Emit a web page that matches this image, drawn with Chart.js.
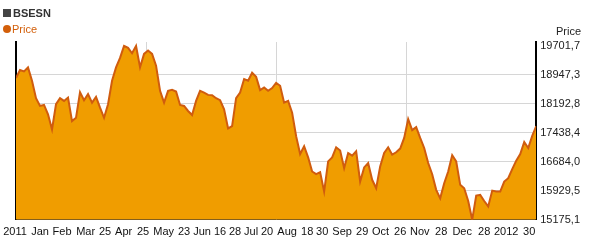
<!DOCTYPE html>
<html>
<head>
<meta charset="utf-8">
<script src="https://cdn.jsdelivr.net/npm/chart.js@4.4.1/dist/chart.umd.min.js"></script>
<style>
  html, body { margin: 0; padding: 0; background: #fff; }
  #wrap { width: 600px; height: 247px; position: relative; }
</style>
</head>
<body>
<div id="wrap"><canvas id="priceChart"></canvas></div>
<script>
// x labels as printed under the chart, and where they sit (in sample index units)
const dayLabels = ["2011", "Jan", "Feb", "Mar", "25", "Apr", "25", "May", "23", "Jun", "16", "28", "Jul", "20",
  "Aug", "18", "30", "Sep", "29", "Oct", "26", "Nov", "28", "Dec", "28", "2012", "30"];
const labelAt = [-0.25, 6, 11.5, 17.4, 22.25, 26.9, 31.75, 36.9, 42, 46.5, 51, 54.75, 58.75, 62.75,
  67.75, 72.75, 76.5, 81.5, 86.5, 91.1, 96, 100.9, 106.25, 111.5, 117, 122.5, 128.25];

// BSESN closing price, one reading every few sessions
const price = [
  18863, 19073, 19036, 19141, 18792, 18339, 18137, 18163, 17919, 17526,
  18182, 18339, 18268, 18355, 17744, 17830, 18496, 18286, 18444, 18223,
  18373, 18092, 17830, 18182, 18792, 19141, 19387, 19701, 19649, 19508,
  19696, 19141, 19492, 19579, 19492, 19185, 18530, 18223, 18530, 18556,
  18512, 18163, 18137, 18006, 17901, 18268, 18530, 18486, 18425, 18417,
  18339, 18286, 18050, 17552, 17613, 18339, 18486, 18837, 18792, 19002,
  18897, 18548, 18617, 18530, 18601, 18740, 18661, 18223, 18268, 17961,
  17351, 16887, 17088, 16800, 16433, 16362, 16415, 15909, 16695, 16800,
  17062, 16976, 16520, 16913, 16845, 16957, 16171, 16538, 16651, 16216,
  15996, 16564, 16913, 17062, 16871, 16931, 17028, 17306, 17796, 17508,
  17587, 17306, 17044, 16651, 16362, 15954, 15733, 16127, 16433, 16853,
  16695, 16085, 15996, 15665, 15180, 15804, 15823, 15665, 15524, 15935,
  15909, 15909, 16171, 16258, 16494, 16714, 16887, 17201, 17044, 17359,
  17613
];

const yTicks = [15175.1, 15929.5, 16684.0, 17438.4, 18192.8, 18947.3, 19701.7];

const points = price.map((v, i) => ({ x: i, y: v }));
const lastIdx = price.length - 1;
const font = { family: "'Liberation Sans', Arial, sans-serif", size: 11 };

// legend block and the "Price" header over the value axis
const headerPlugin = {
  id: "header",
  afterDraw(chart) {
    const c = chart.ctx;
    c.save();
    c.textBaseline = "middle";
    c.fillStyle = "#444";
    c.fillRect(3, 9, 8, 8);
    c.font = "bold 11px 'Liberation Sans', Arial, sans-serif";
    c.fillStyle = "#333";
    c.fillText("BSESN", 13, 13.5);
    c.fillStyle = "#d35f0a";
    c.beginPath();
    c.arc(7, 29, 4, 0, Math.PI * 2);
    c.fill();
    c.font = "11px 'Liberation Sans', Arial, sans-serif";
    c.fillText("Price", 12, 29.5);
    c.fillStyle = "#222";
    c.textAlign = "right";
    c.fillText("Price", 581, 32);
    c.restore();
  }
};

new Chart(document.getElementById("priceChart"), {
  type: "line",
  data: {
    datasets: [{
      label: "Price",
      data: points,
      borderColor: "#d05c0e",
      backgroundColor: "#f09d00",
      borderWidth: 2,
      pointRadius: 0,
      fill: "start",
      tension: 0
    }]
  },
  options: {
    responsive: true,
    maintainAspectRatio: false,
    animation: false,
    layout: { padding: { top: 42, right: 16, bottom: 2, left: 16 } },
    plugins: { legend: { display: false }, tooltip: { enabled: false } },
    scales: {
      x: {
        type: "linear",
        min: 0,
        max: lastIdx,
        afterBuildTicks: (axis) => { axis.ticks = labelAt.map(v => ({ value: v })); },
        afterFit: (axis) => { axis.paddingLeft = 0; axis.paddingRight = 0; },
        ticks: {
          autoSkip: false,
          maxRotation: 0,
          padding: 6,
          color: "#111",
          font: font,
          callback: (v, i) => dayLabels[i]
        },
        grid: { display: false, drawTicks: false },
        border: { display: true, color: "#333", width: 1 }
      },
      xg: {
        type: "linear",
        position: "bottom",
        min: 0,
        max: lastIdx,
        ticks: { display: false, stepSize: lastIdx / 4 },
        grid: {
          drawTicks: false,
          color: (ctx) => (ctx.tick && ctx.tick.value > 0 && ctx.tick.value < lastIdx) ? "#d6d6d6" : "rgba(0,0,0,0)"
        },
        border: { display: false }
      },
      y: {
        type: "linear",
        position: "right",
        min: yTicks[0],
        max: 19801,
        afterBuildTicks: (axis) => { axis.ticks = yTicks.map(v => ({ value: v })); },
        ticks: {
          padding: 4,
          color: "#222",
          font: font,
          callback: (v) => v.toFixed(1).replace(".", ",")
        },
        grid: {
          drawTicks: false,
          color: (ctx) => (ctx.index > 0 && ctx.index < yTicks.length - 1) ? "#d6d6d6" : "rgba(0,0,0,0)"
        },
        border: { display: true, color: "#000", width: 2 }
      },
      yl: {
        type: "linear",
        position: "left",
        min: yTicks[0],
        max: 19801,
        ticks: { display: false },
        grid: { display: false, drawTicks: false },
        border: { display: true, color: "#000", width: 2 }
      }
    }
  },
  plugins: [headerPlugin]
});
</script>
</body>
</html>
